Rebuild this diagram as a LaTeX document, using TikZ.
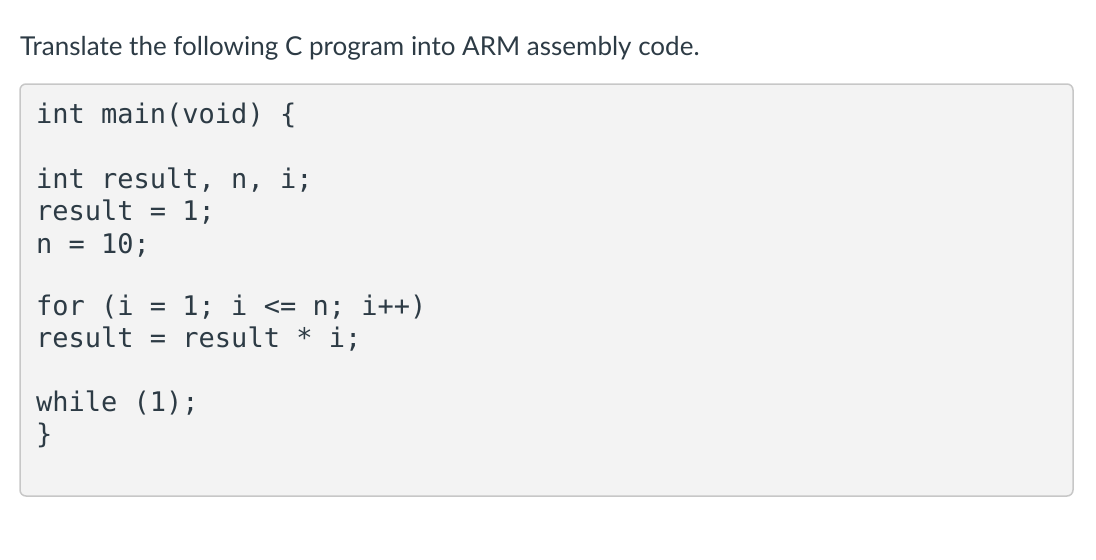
\documentclass[tikz,border=0pt]{standalone}
\usepackage{fontspec}
\setmainfont{Lato}
\newfontfamily\codefont{DejaVu Sans Mono}
\definecolor{boxfill}{HTML}{F3F3F3}
\definecolor{boxline}{HTML}{C7C7C7}
\definecolor{txt}{HTML}{2D3B45}
\begin{document}
\begin{tikzpicture}[x=1pt,y=-1pt,
  codeline/.style={anchor=base west,inner sep=0pt,font=\codefont\fontsize{27}{27}\selectfont,text=txt}]
\useasboundingbox (0,0) rectangle (1096,560);
\node[anchor=base west,inner sep=0pt,font=\fontsize{26}{26}\selectfont,text=txt] (title) at (20,55) {Translate the following C program into ARM assembly code.};
\draw[boxline,fill=boxfill,line width=1.5pt,rounded corners=6pt] (20,84) rectangle (1073,496);
\node[codeline] (l1) at (36,123) {int main(void) \{};
\node[codeline] (l2) at (36,188) {int result, n, i;};
\node[codeline] (l3) at (36,220) {result = 1;};
\node[codeline] (l4) at (36,253) {n = 10;};
\node[codeline] (l5) at (36,315) {for (i = 1; i <= n; i++)};
\node[codeline] (l6) at (36,347) {result = result * i;};
\node[codeline] (l7) at (36,411) {while (1);};
\node[codeline] (l8) at (36,443) {\}};
\end{tikzpicture}
\end{document}
